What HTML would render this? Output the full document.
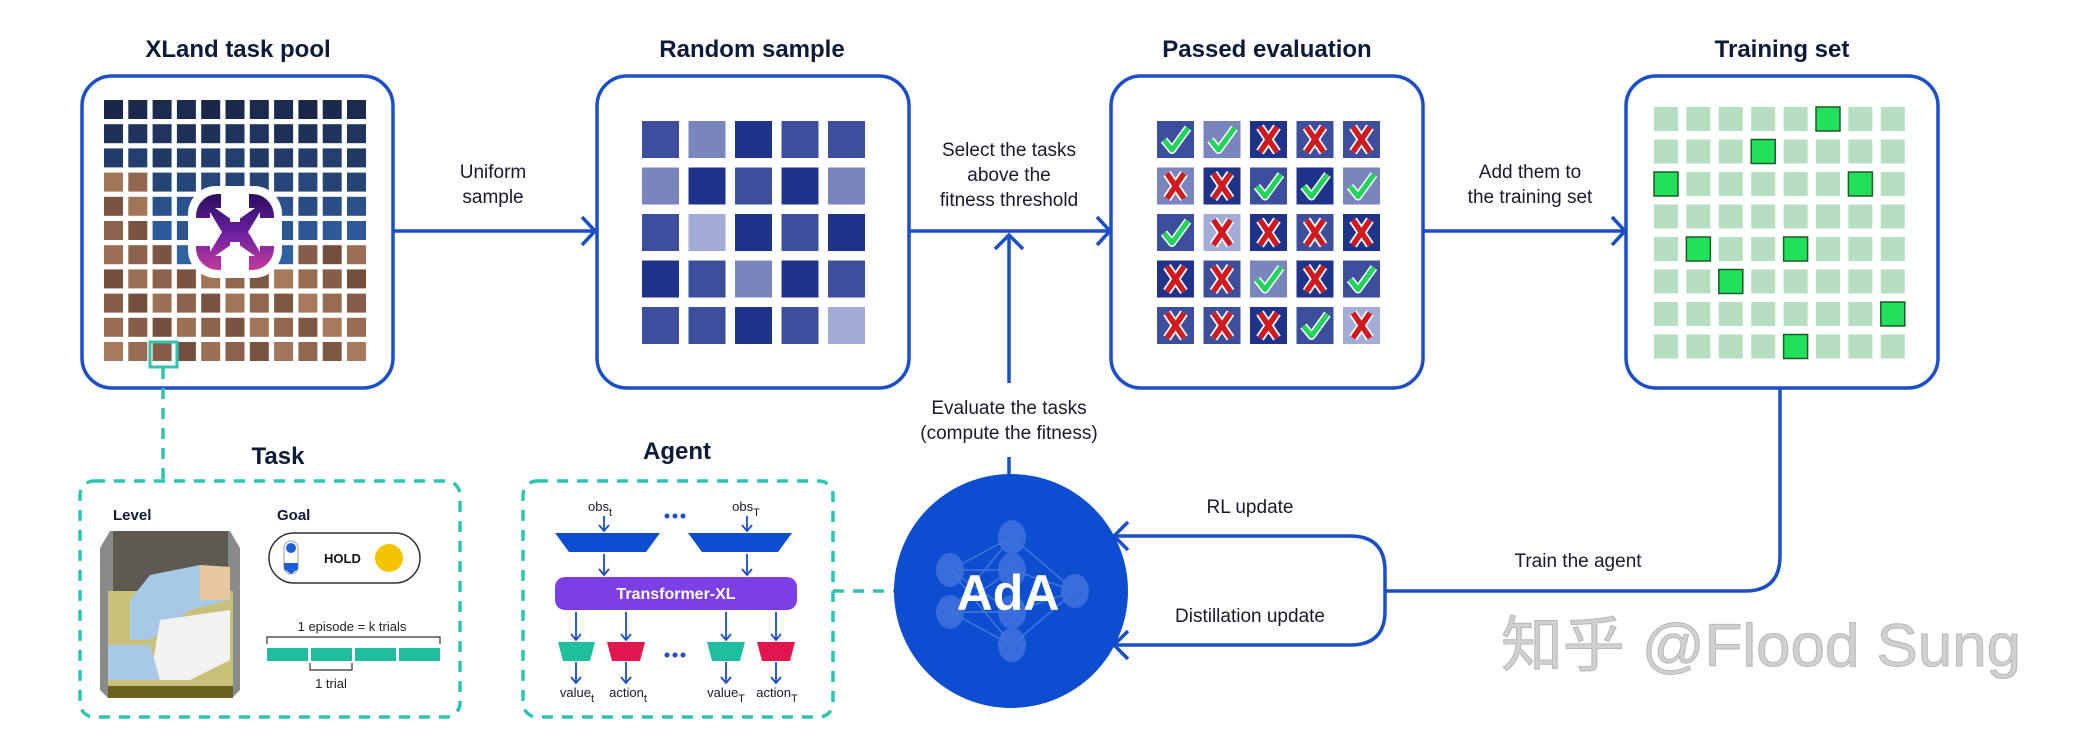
<!DOCTYPE html>
<html><head><meta charset="utf-8">
<style>
html,body{margin:0;padding:0;background:#fff;}
svg{display:block;}
text{font-family:"Liberation Sans","Noto Sans CJK SC",sans-serif;}
</style></head>
<body>
<svg id="s" width="2074" height="740" viewBox="0 0 2074 740" xmlns="http://www.w3.org/2000/svg">
<defs>
<linearGradient id="pg" x1="0" y1="0" x2="0" y2="1">
<stop offset="0" stop-color="#2a0d5c"/><stop offset="0.5" stop-color="#6a1fa0"/><stop offset="1" stop-color="#c23a9a"/>
</linearGradient>
</defs>
<g id="g"></g>

<g font-weight="bold" font-size="24" fill="#0e1a3a" text-anchor="middle">
<text x="238" y="57">XLand task pool</text>
<text x="752" y="57">Random sample</text>
<text x="1267" y="57">Passed evaluation</text>
<text x="1782" y="57">Training set</text>
<text x="278" y="464">Task</text>
<text x="677" y="459">Agent</text>
</g>

<g fill="none" stroke="#1a4fc8" stroke-width="3.5">
<rect x="82" y="76" width="311" height="312" rx="30"/>
<rect x="597" y="76" width="312" height="312" rx="30"/>
<rect x="1111" y="76" width="312" height="312" rx="30"/>
<rect x="1626" y="76" width="312" height="312" rx="30"/>
</g>

<g fill="none" stroke="#1a4fc8" stroke-width="3.5">
<line x1="393" y1="231" x2="594" y2="231"/>
<polyline points="582,217 595,231 582,245"/>
<line x1="909" y1="231" x2="1109" y2="231"/>
<polyline points="1097,217 1110,231 1097,245"/>
<line x1="1423" y1="231" x2="1624" y2="231"/>
<polyline points="1612,217 1625,231 1612,245"/>
<line x1="1009" y1="383" x2="1009" y2="236"/>
<polyline points="995,249 1009,235 1023,249"/>
<line x1="1009" y1="457" x2="1009" y2="478"/>
<path d="M1116,536 H1350 Q1385,536 1385,571 V611 Q1385,645 1350,645 H1116"/>
<polyline points="1128,522 1114,536 1128,550"/>
<polyline points="1128,631 1114,645 1128,659"/>
<path d="M1385,591 H1745 Q1780,591 1780,556 V388"/>
</g>

<g font-size="19" fill="#1a1a2a" text-anchor="middle">
<text x="493" y="178">Uniform</text><text x="493" y="203">sample</text>
<text x="1009" y="156">Select the tasks</text><text x="1009" y="181">above the</text><text x="1009" y="206">fitness threshold</text>
<text x="1530" y="178">Add them to</text><text x="1530" y="203">the training set</text>
<text x="1009" y="414">Evaluate the tasks</text><text x="1009" y="439">(compute the fitness)</text>
<text x="1250" y="513">RL update</text>
<text x="1250" y="622">Distillation update</text>
<text x="1578" y="567">Train the agent</text>
</g>

<text x="1501" y="666" font-size="60" textLength="520" lengthAdjust="spacingAndGlyphs" fill="#d0d0d0" stroke="#b8b8b8" stroke-width="1" font-family="'Liberation Sans','Noto Sans CJK SC',sans-serif">知乎 @Flood Sung</text>

<g fill="none" stroke="#2ec4b0" stroke-width="3.5" stroke-dasharray="11,9">
<line x1="163" y1="368" x2="163" y2="481"/>
<rect x="80" y="481" width="380" height="236" rx="14"/>
<rect x="523" y="481" width="310" height="236" rx="14"/>
<line x1="833" y1="591" x2="895" y2="591"/>
</g>
<rect x="150" y="342" width="27" height="25" fill="none" stroke="#2ec4b0" stroke-width="3"/>

<circle cx="1011" cy="591" r="117" fill="#0d4ed0"/>
<g stroke="#4f7fe0" stroke-width="1.5" opacity="0.8">
<line x1="950" y1="570" x2="1012" y2="537"/><line x1="950" y1="570" x2="1012" y2="570"/><line x1="950" y1="570" x2="1012" y2="612"/>
<line x1="950" y1="612" x2="1012" y2="570"/><line x1="950" y1="612" x2="1012" y2="612"/><line x1="950" y1="612" x2="1012" y2="645"/>
<line x1="1012" y1="537" x2="1075" y2="591"/><line x1="1012" y1="570" x2="1075" y2="591"/><line x1="1012" y1="612" x2="1075" y2="591"/><line x1="1012" y1="645" x2="1075" y2="591"/>
<line x1="950" y1="570" x2="1012" y2="645"/><line x1="950" y1="612" x2="1012" y2="537"/>
</g>
<g fill="#3f72dc" opacity="0.85">
<ellipse cx="950" cy="570" rx="14" ry="17"/><ellipse cx="950" cy="612" rx="14" ry="17"/>
<ellipse cx="1012" cy="537" rx="14" ry="17"/><ellipse cx="1012" cy="570" rx="14" ry="17"/><ellipse cx="1012" cy="612" rx="14" ry="17"/><ellipse cx="1012" cy="645" rx="14" ry="17"/>
<ellipse cx="1075" cy="591" rx="14" ry="17"/>
</g>
<text x="1008" y="610" font-size="50" font-weight="bold" fill="#fff" text-anchor="middle">AdA</text>

<g font-weight="bold" font-size="15" fill="#0e1a3a">
<text x="113" y="520">Level</text><text x="277" y="520">Goal</text>
</g>
<polygon points="110,531 230,531 240,548 240,690 232,698 108,698 100,690 100,548" fill="#8a8a8a"/>
<rect x="113" y="531" width="115" height="60" fill="#5e5a52"/>
<rect x="108" y="591" width="125" height="95" fill="#c9c07a"/>
<polygon points="150,575 200,565 230,567 230,600 190,610 150,640 130,640 130,600" fill="#a8c8e8"/>
<polygon points="200,565 230,567 230,600 200,600" fill="#e7c8a0"/>
<polygon points="160,620 230,610 230,660 190,680 150,680" fill="#f2f2f2"/>
<polygon points="108,645 150,645 160,680 108,680" fill="#a8c8e8"/>
<rect x="108" y="686" width="125" height="12" fill="#6a6020"/>
<rect x="269" y="533" width="151" height="50" rx="25" fill="#fff" stroke="#333" stroke-width="1.5"/>
<rect x="284" y="541" width="14" height="33" rx="7" fill="#fff" stroke="#999"/>
<circle cx="291" cy="548" r="5" fill="#1a5fd8"/>
<path d="M284,563 h14 v6 l-7,5 l-7,-5z" fill="#1a5fd8"/>
<text x="324" y="563" font-size="13" font-weight="bold" fill="#111">HOLD</text>
<circle cx="389" cy="558" r="14" fill="#f5c400"/>
<text x="352" y="631" font-size="13" fill="#222" text-anchor="middle">1 episode = k trials</text>
<polyline points="267,644 267,637 440,637 440,644" fill="none" stroke="#333" stroke-width="1.2"/>
<g fill="#1dbf9f"><rect x="267" y="648" width="41" height="13"/><rect x="311" y="648" width="41" height="13"/><rect x="355" y="648" width="41" height="13"/><rect x="399" y="648" width="41" height="13"/></g>
<polyline points="310,663 310,670 352,670 352,663" fill="none" stroke="#333" stroke-width="1.2"/>
<text x="331" y="688" font-size="13" fill="#222" text-anchor="middle">1 trial</text>

<g fill="#1a1a2a" font-size="13" text-anchor="middle">
<text x="600" y="511">obs<tspan font-size="11" dy="5">t</tspan></text>
<text x="746" y="511">obs<tspan font-size="11" dy="5">T</tspan></text>
<text x="577" y="697">value<tspan font-size="11" dy="5">t</tspan></text>
<text x="628" y="697">action<tspan font-size="11" dy="5">t</tspan></text>
<text x="726" y="697">value<tspan font-size="11" dy="5">T</tspan></text>
<text x="777" y="697">action<tspan font-size="11" dy="5">T</tspan></text>
</g>
<g fill="#1a4fc8"><circle cx="667" cy="516" r="2.5"/><circle cx="675" cy="516" r="2.5"/><circle cx="683" cy="516" r="2.5"/>
<circle cx="667" cy="655" r="2.5"/><circle cx="675" cy="655" r="2.5"/><circle cx="683" cy="655" r="2.5"/></g>
<polygon points="555,533 660,533 646,552 569,552" fill="#0d4ed0"/>
<polygon points="688,533 792,533 778,552 702,552" fill="#0d4ed0"/>
<rect x="555" y="577" width="242" height="33" rx="10" fill="#7b3fe4"/>
<text x="676" y="599" font-size="16" font-weight="bold" fill="#fff" text-anchor="middle">Transformer-XL</text>
<polygon points="558,642 595,642 590,661 563,661" fill="#1dbf9f"/>
<polygon points="607,642 645,642 640,661 612,661" fill="#e3154f"/>
<polygon points="707,642 745,642 740,661 712,661" fill="#1dbf9f"/>
<polygon points="757,642 795,642 790,661 762,661" fill="#e3154f"/>
<g stroke="#1a4fc8" stroke-width="1.8" fill="none" id="ag"></g>
</svg>
<script>
var NS="http://www.w3.org/2000/svg",g=document.getElementById('g'),ag=document.getElementById('ag');
function el(p,t,a){var e=document.createElementNS(NS,t);for(var k in a)e.setAttribute(k,a[k]);p.appendChild(e);return e;}
function arr(x,y1,y2){el(ag,'line',{x1:x,y1:y1,x2:x,y2:y2});el(ag,'polyline',{points:(x-5)+','+(y2-6)+' '+x+','+y2+' '+(x+5)+','+(y2-6)});}
arr(604,516,531);arr(747,516,531);arr(604,554,575);arr(747,554,575);
[576,626,726,776].forEach(function(x){arr(x,612,640);arr(x,662,683);});
function hx(a,b,t){var pa=[parseInt(a.substr(1,2),16),parseInt(a.substr(3,2),16),parseInt(a.substr(5,2),16)],pb=[parseInt(b.substr(1,2),16),parseInt(b.substr(3,2),16),parseInt(b.substr(5,2),16)];return 'rgb('+pa.map(function(v,i){return Math.round(v+(pb[i]-v)*t)}).join(',')+')';}
for(var r=0;r<11;r++)for(var c=0;c<11;c++){
 var col;
 var brown=(r>=7)||(r>=3&&c<2)||(r==6&&c>=8)||(r==6&&c==2);
 if(brown){col=hx('#a87a5c','#6e4a3a',((r*7+c*3)%10)/10);}
 else{col=hx('#1a2748','#2f5fa0',Math.min(1,r/6)+((c*5+r)%4)*0.03);}
 el(g,'rect',{x:104+c*24.3,y:100+r*24.2,width:19,height:19,fill:col});
}
el(g,'rect',{x:188,y:186,width:94,height:92,rx:28,fill:'#fff'});
el(g,'rect',{x:196,y:194,width:78,height:76,rx:22,fill:'url(#pg)'});
[[235,196,235,222],[235,268,235,242],[198,232,222,232],[272,232,248,232]].forEach(function(a){
 el(g,'rect',{x:a[0]-5,y:Math.min(a[1],a[3]),width:10,height:Math.abs(a[3]-a[1])||10,fill:'#fff'});
});
el(g,'polygon',{points:'196,218 210,218 210,212 222,232 210,252 210,246 196,246',fill:'#fff'});
el(g,'polygon',{points:'274,218 260,218 260,212 248,232 260,252 260,246 274,246',fill:'#fff'});
el(g,'polygon',{points:'221,194 249,194 249,208 255,208 235,222 215,208 221,208',fill:'#fff'});
el(g,'polygon',{points:'221,270 249,270 249,256 255,256 235,242 215,256 221,256',fill:'#fff'});
var C={D:'#1f338a',M:'#3d4f9c',L:'#7985bd',V:'#a3acd6'};
var rs=['MLDMM','LDMDL','MVDMD','DMLDM','MMDMV'];
for(r=0;r<5;r++)for(c=0;c<5;c++)el(g,'rect',{x:642+c*46.5,y:121+r*46.5,width:37,height:37,fill:C[rs[r][c]]});
var pe=['M1L1D0M0M0','L0D0M1D1L1','M1V0D0M0D0','D0M0L1D0M1','M0M0D0M1V0'];
for(r=0;r<5;r++)for(c=0;c<5;c++){
 var x=1157+c*46.5,y=121+r*46.5;
 el(g,'rect',{x:x,y:y,width:37,height:37,fill:C[pe[r][c*2]]});
 if(pe[r][c*2+1]=='1'){el(g,'polyline',{points:(x+7)+','+(y+19)+' '+(x+15)+','+(y+29)+' '+(x+31)+','+(y+7),fill:'none',stroke:'#fff',"stroke-width":8,"stroke-linejoin":"round"});
  el(g,'polyline',{points:(x+7)+','+(y+19)+' '+(x+15)+','+(y+29)+' '+(x+31)+','+(y+7),fill:'none',stroke:'#22d45a',"stroke-width":5,"stroke-linejoin":"round"});}
 else{var p='M'+(x+10)+','+(y+6)+' L'+(x+27)+','+(y+31)+' M'+(x+27)+','+(y+6)+' L'+(x+10)+','+(y+31);
  el(g,'path',{d:p,stroke:'#fff',"stroke-width":9});el(g,'path',{d:p,stroke:'#d01a20',"stroke-width":5.5});}
}
var hi={'0,5':1,'1,3':1,'2,0':1,'2,6':1,'4,1':1,'4,4':1,'5,2':1,'6,7':1,'7,4':1};
for(r=0;r<8;r++)for(c=0;c<8;c++){
 var h=hi[r+','+c];
 el(g,'rect',{x:1654+c*32.4,y:107+r*32.5,width:24,height:24,fill:h?'#22e05a':'#b5dfc0',stroke:h?'#1b5a2a':'none',"stroke-width":1.5});
}
</script>
</body></html>
